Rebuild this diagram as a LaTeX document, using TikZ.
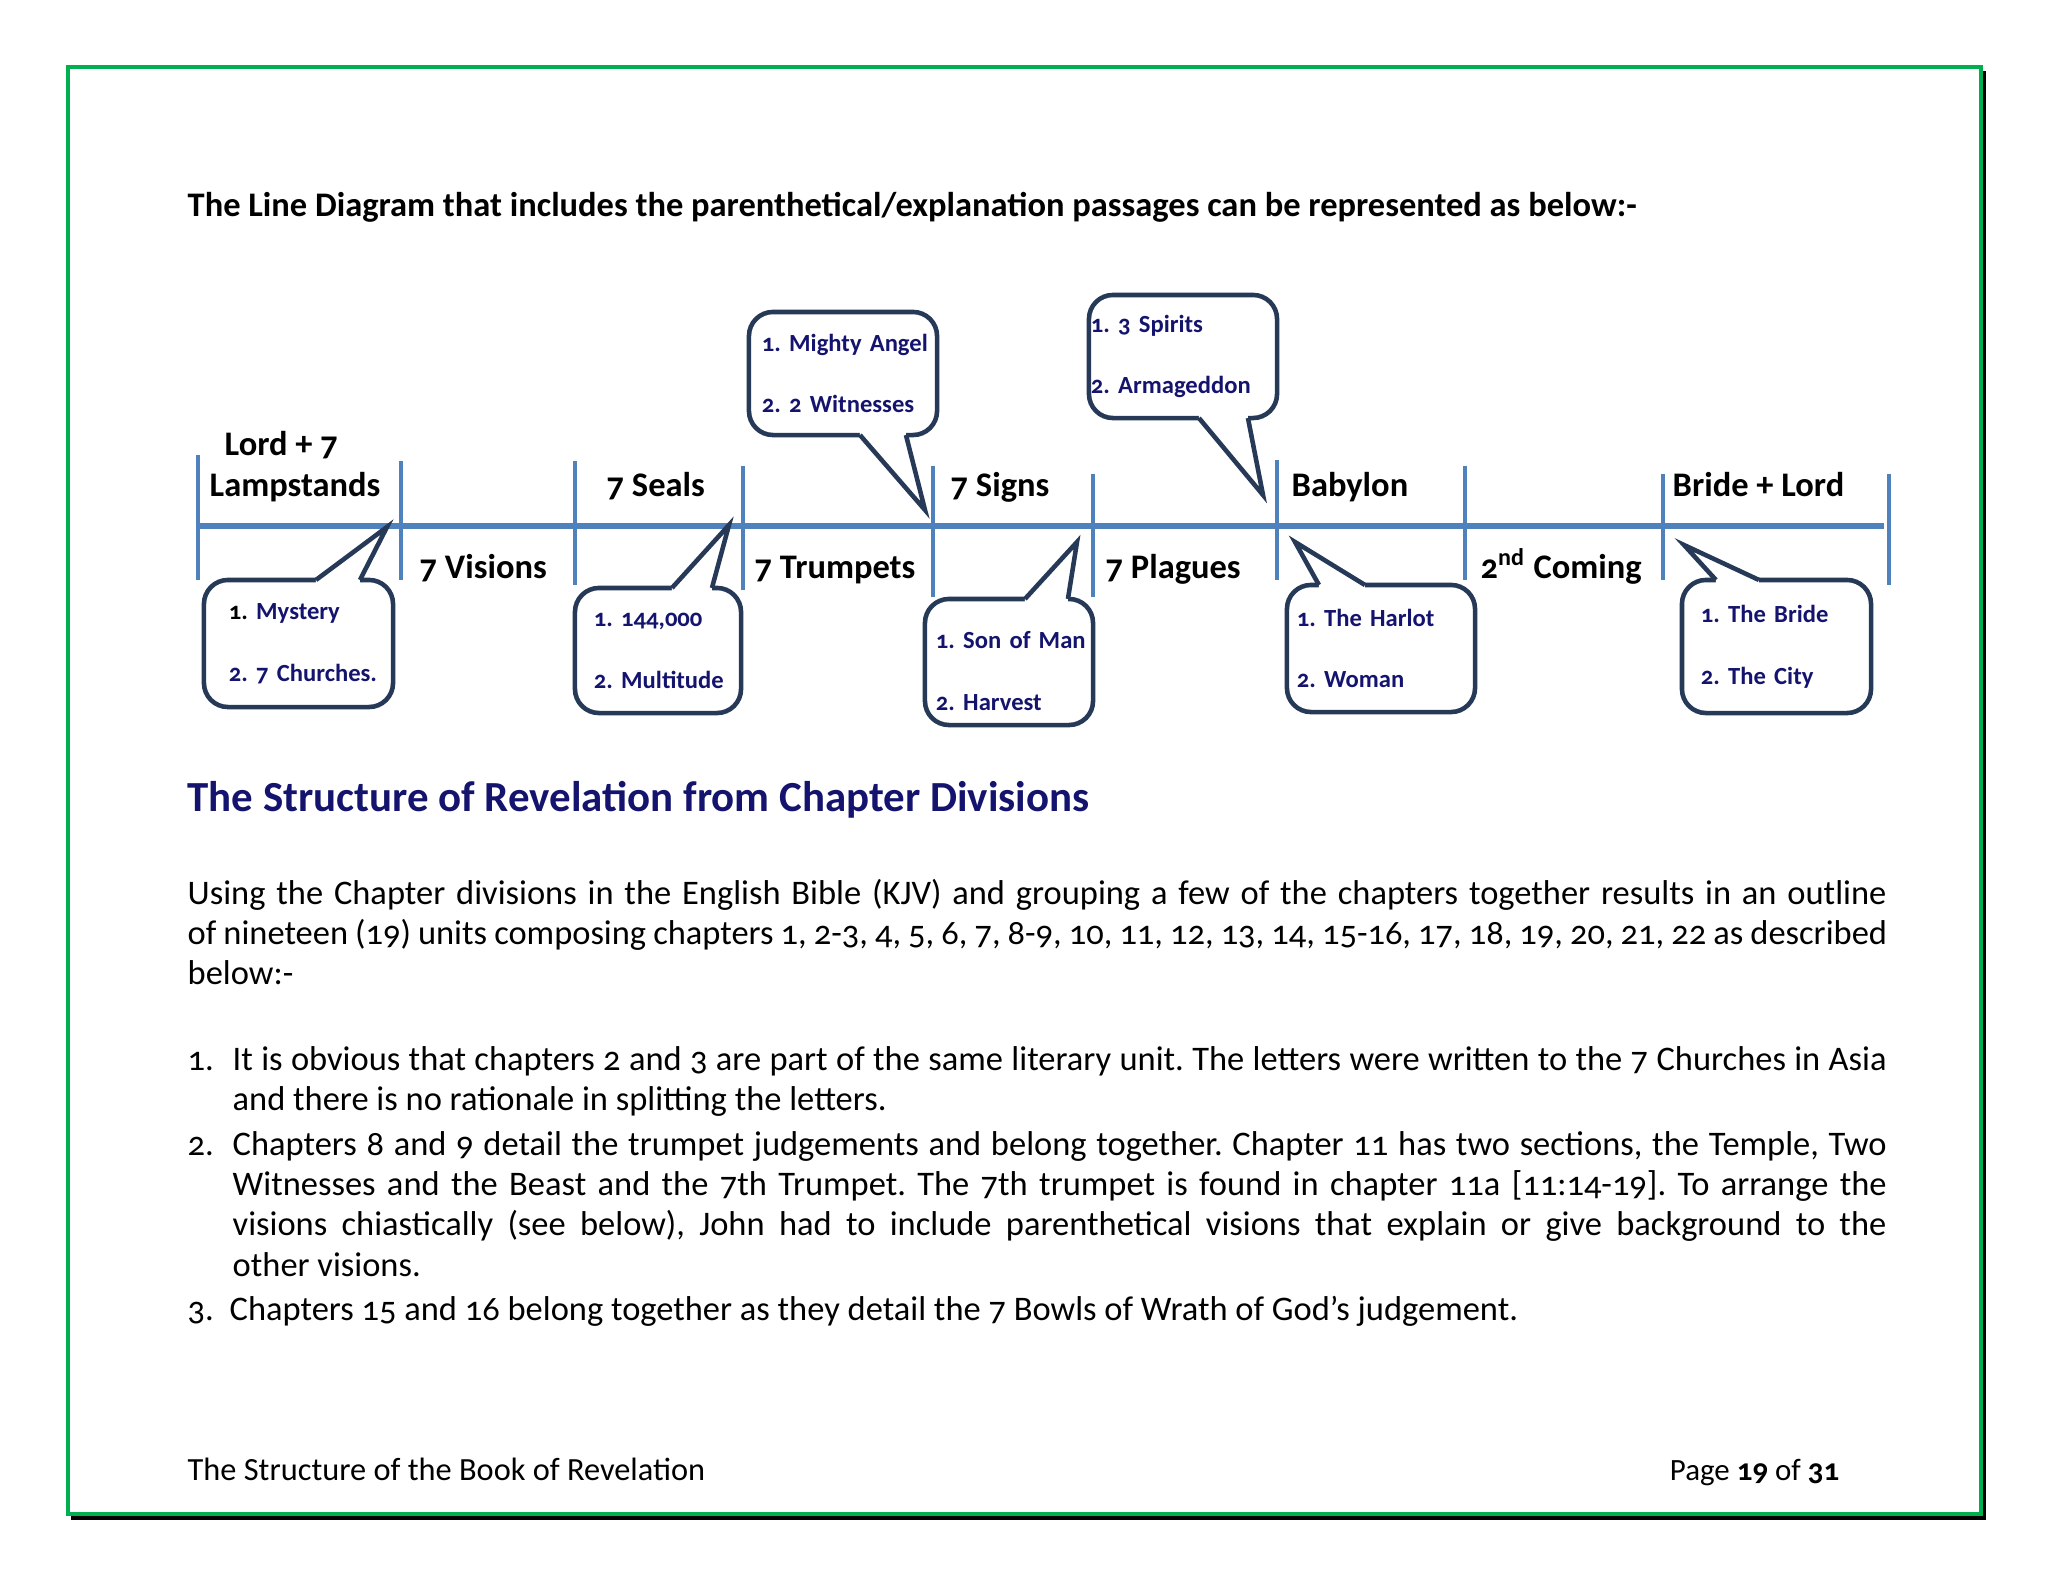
\documentclass[tikz,border=0pt]{standalone}
\usepackage{fontspec}
\setmainfont{Carlito}[Numbers=OldStyle]
\frenchspacing
\usetikzlibrary{positioning}
\usetikzlibrary{calc}

\definecolor{framegreen}{RGB}{0,176,80}
\definecolor{lineblue}{RGB}{79,129,189}
\definecolor{bubbleline}{RGB}{38,58,88}
\definecolor{navytext}{RGB}{20,20,110}

\tikzset{
  txt/.style={inner sep=0pt, anchor=base west},
  body/.style={txt, font=\fontsize{9.8}{11.5}\selectfont},
  lbl/.style={txt, font=\fontsize{9.8}{12}\selectfont\bfseries},
  timeline/.style={draw=lineblue, line width=1.5pt},
  tick/.style={draw=lineblue, line width=1.3pt},
  bubble/.style={draw=bubbleline, line width=1.3pt, rounded corners=0.24cm, fill=white,
    inner sep=0pt, outer sep=0pt, align=left, text=navytext,
    font=\fontsize{7}{17.6}\selectfont\bfseries},
  pointer/.style={draw=bubbleline, line width=1.3pt, line join=miter},
}

\begin{document}
\begin{tikzpicture}[x=0.01cm, y=0.01cm]
\useasboundingbox[fill=white] (0,0) rectangle (2048,-1582);

% page frame
\draw[black, line width=1.1pt] (1984,-71) -- (1984,-1518) -- (71,-1518);
\draw[framegreen, line width=1pt] (68,-67) rectangle (1981,-1514);

\node[txt, font=\fontsize{9.8}{11}\selectfont\bfseries] (intro) at (187,-217)
  {The Line Diagram that includes the parenthetical/explanation passages can be represented as below:-};

% time line
\draw[timeline] (198,-526) -- (1884,-526);
\draw[tick] (198,-455) -- (198,-580);
\draw[tick] (401,-461) -- (401,-580);
\draw[tick] (575,-461) -- (575,-585);
\draw[tick] (743,-466) -- (743,-590);
\draw[tick] (933,-466) -- (933,-597);
\draw[tick] (1093,-474) -- (1093,-597);
\draw[tick] (1277,-460) -- (1277,-580);
\draw[tick] (1465,-466) -- (1465,-580);
\draw[tick] (1663,-474) -- (1663,-580);
\draw[tick] (1889,-474) -- (1889,-585);

\node[lbl] (lord) at (224,-455) {Lord + 7};
\node[lbl] (lamps) at (209,-496) {Lampstands};
\node[lbl] (seals) at (606,-496) {7 Seals};
\node[lbl] (signs) at (950,-496) {7 Signs};
\node[lbl] (babylon) at (1291,-496) {Babylon};
\node[lbl] (bridelord) at (1672,-496) {Bride + Lord};
\node[lbl] (visions) at (419,-578) {7 Visions};
\node[lbl] (trumpets) at (754,-578) {7 Trumpets};
\node[lbl] (plagues) at (1105,-578) {7 Plagues};
\node[lbl] (coming) at (1480,-578) {2\textsuperscript{nd} Coming};

% bubbles
\node[bubble, minimum width=1.89cm, minimum height=1.27cm, text width=1.89cm] (mystery) at (298.5,-643.5)
  {\hspace*{0.25cm}\textcolor{black}{1.} Mystery\newline\hspace*{0.25cm}2. 7 Churches.};
\node[bubble, minimum width=1.66cm, minimum height=1.25cm, text width=1.66cm] (multitude) at (658,-650.5)
  {\hspace*{0.19cm}1. 144,000\newline\hspace*{0.19cm}2. Multitude};
\node[bubble, minimum width=1.88cm, minimum height=1.23cm, text width=1.88cm] (angel) at (843,-373.5)
  {\hspace*{0.13cm}1. Mighty Angel\newline\hspace*{0.13cm}2. 2 Witnesses};
\node[bubble, minimum width=1.68cm, minimum height=1.26cm, text width=1.68cm] (sonofman) at (1009,-662)
  {\hspace*{0.11cm}\rule{0pt}{10pt}1. Son of Man\newline\hspace*{0.11cm}2. Harvest};
\node[bubble, minimum width=1.88cm, minimum height=1.23cm, text width=1.88cm] (spirits) at (1183,-356.5)
  {\hspace*{0.02cm}1. 3 Spirits\newline\hspace*{0.02cm}2. Armageddon};
\node[bubble, minimum width=1.88cm, minimum height=1.27cm, text width=1.88cm] (harlot) at (1381,-648.5)
  {\hspace*{0.10cm}1. The Harlot\newline\hspace*{0.10cm}2. Woman};
\node[bubble, minimum width=1.89cm, minimum height=1.33cm, text width=1.89cm] (bride) at (1776.5,-646.5)
  {\hspace*{0.19cm}1. The Bride\newline\hspace*{0.19cm}2. The City};

\coordinate (mystery tip) at (387,-527);
\coordinate (multitude tip) at (729,-525);
\coordinate (angel tip) at (925,-510);
\coordinate (sonofman tip) at (1077,-542);
\coordinate (spirits tip) at (1263,-495);
\coordinate (harlot tip) at (1295,-542);
\coordinate (bride tip) at (1684,-545);

\fill[white] ($(mystery.north west)+(112,-6)$) -- ($(mystery.north west)+(112,0)$) -- (mystery tip)
  -- ($(mystery.north west)+(156,0)$) -- ($(mystery.north west)+(156,-6)$) -- cycle;
\draw[pointer] ($(mystery.north west)+(112,0)$) -- (mystery tip) -- ($(mystery.north west)+(156,0)$);

\fill[white] ($(multitude.north west)+(97,-6)$) -- ($(multitude.north west)+(97,0)$) -- (multitude tip)
  -- ($(multitude.north west)+(137,0)$) -- ($(multitude.north west)+(137,-6)$) -- cycle;
\draw[pointer] ($(multitude.north west)+(97,0)$) -- (multitude tip) -- ($(multitude.north west)+(137,0)$);

\fill[white] ($(angel.south west)+(111,6)$) -- ($(angel.south west)+(111,0)$) -- (angel tip)
  -- ($(angel.south west)+(157,0)$) -- ($(angel.south west)+(157,6)$) -- cycle;
\draw[pointer] ($(angel.south west)+(111,0)$) -- (angel tip) -- ($(angel.south west)+(157,0)$);

\fill[white] ($(sonofman.north west)+(100,-6)$) -- ($(sonofman.north west)+(100,0)$) -- (sonofman tip)
  -- ($(sonofman.north west)+(143,0)$) -- ($(sonofman.north west)+(143,-6)$) -- cycle;
\draw[pointer] ($(sonofman.north west)+(100,0)$) -- (sonofman tip) -- ($(sonofman.north west)+(143,0)$);

\fill[white] ($(spirits.south west)+(110,6)$) -- ($(spirits.south west)+(110,0)$) -- (spirits tip)
  -- ($(spirits.south west)+(159,0)$) -- ($(spirits.south west)+(159,6)$) -- cycle;
\draw[pointer] ($(spirits.south west)+(110,0)$) -- (spirits tip) -- ($(spirits.south west)+(159,0)$);

\fill[white] ($(harlot.north west)+(32,-6)$) -- ($(harlot.north west)+(32,0)$) -- (harlot tip)
  -- ($(harlot.north west)+(78,0)$) -- ($(harlot.north west)+(78,-6)$) -- cycle;
\draw[pointer] ($(harlot.north west)+(32,0)$) -- (harlot tip) -- ($(harlot.north west)+(78,0)$);

\fill[white] ($(bride.north west)+(34,-6)$) -- ($(bride.north west)+(34,0)$) -- (bride tip)
  -- ($(bride.north west)+(77,0)$) -- ($(bride.north west)+(77,-6)$) -- cycle;
\draw[pointer] ($(bride.north west)+(34,0)$) -- (bride tip) -- ($(bride.north west)+(77,0)$);

% chapter divisions
\node[txt, text=navytext, font=\fontsize{12.2}{14}\selectfont\bfseries] (heading) at (187,-811)
  {The Structure of Revelation from Chapter Divisions};

\node[body, text width=16.98cm, align=justify] (para) at (187,-904)
  {Using the Chapter divisions in the English Bible (KJV) and grouping a few of the chapters together results in an outline\linebreak
   of nineteen (19) units composing chapters 1, 2-3, 4, 5, 6, 7, 8-9, 10, 11, 12, 13, 14, 15-16, 17, 18, 19, 20, 21, 22 as described\linebreak
   below:-};

\node[body] (num1) at (187,-1070) {1.};
\node[body, text width=16.53cm, align=justify] (item1) at (232,-1070)
  {It is obvious that chapters 2 and 3 are part of the same literary unit. The letters were written to the 7 Churches in Asia\linebreak
   and there is no rationale in splitting the letters.};
\node[body] (num2) at (187,-1155) {2.};
\node[body, text width=16.53cm, align=justify] (item2) at (232,-1155)
  {Chapters 8 and 9 detail the trumpet judgements and belong together. Chapter 11 has two sections, the Temple, Two\linebreak
   Witnesses and the Beast and the 7th Trumpet. The 7th trumpet is found in chapter 11a [11:14-19]. To arrange the\linebreak
   visions chiastically (see below), John had to include parenthetical visions that explain or give background to the\linebreak
   other visions.};
\node[body] (num3) at (187,-1320) {3.};
\node[body] (item3) at (229,-1320)
  {Chapters 15 and 16 belong together as they detail the 7 Bowls of Wrath of God’s judgement.};

% footer
\node[txt, font=\fontsize{9.2}{10}\selectfont] (foottitle) at (187,-1480) {The Structure of the Book of Revelation};
\node[txt, anchor=base east, font=\fontsize{8.8}{10}\selectfont] (pageno) at (1840,-1480) {Page \textbf{19} of \textbf{31}};
\end{tikzpicture}
\end{document}
